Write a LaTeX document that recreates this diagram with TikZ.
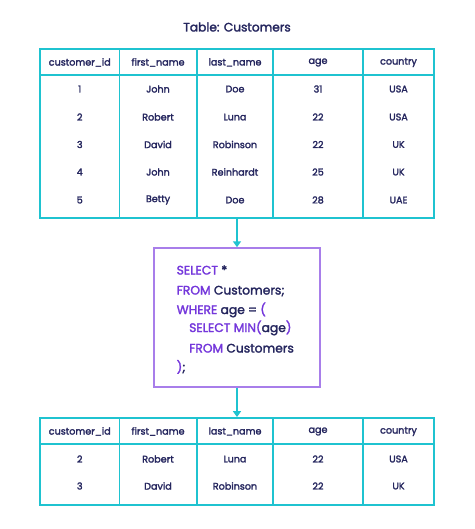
\documentclass[tikz,border=0pt]{standalone}
\usepackage{fontspec}
\setmainfont{Poppins}[FakeBold=2.2]
\usetikzlibrary{arrows.meta}
\definecolor{tealc}{HTML}{1FC3D0}
\definecolor{navy}{HTML}{25265E}
\definecolor{kw}{HTML}{7437DB}
\definecolor{boxc}{HTML}{A87EEA}
\tikzset{
  tbl/.style={draw=tealc, line width=1.8pt, inner sep=0pt, rectangle},
  cell/.style={text=navy, font=\fontsize{9.6}{11}\selectfont, inner sep=0pt, anchor=center},
  sql/.style={text=navy, font=\fontsize{12.3}{14}\selectfont, inner sep=0pt, anchor=base west},
  conn/.style={draw=tealc, line width=1.8pt, -{Triangle[width=8pt,length=6pt]}},
  qbox/.style={draw=boxc, line width=1.5pt, rectangle, inner sep=0pt},
  grid/.style={draw=tealc, line width=1.8pt}
}
\newcommand{\kwd}[1]{\textcolor{kw}{#1}}
\begin{document}
\begin{tikzpicture}[x=1pt,y=-1pt]
\useasboundingbox (0,0) rectangle (474,529);
% title
\node[text=navy, font=\fontsize{12.2}{14}\selectfont, inner sep=0pt] (title) at (237,27) {Table: Customers};
% top table
\node[tbl, minimum width=394pt, minimum height=169pt] (t1) at (237,133.5) {};
\draw[grid] (40,75) -- (434,75);
\foreach \x in {119.5,197,273,363} \draw[grid] (\x,49) -- (\x,218);
% bottom table
\node[tbl, minimum width=394pt, minimum height=87pt] (t2) at (237,461.5) {};
\draw[grid] (40,444) -- (434,444);
\foreach \x in {119.5,197,273,363} \draw[grid] (\x,418) -- (\x,505);
% headers
\foreach \t/\x [count=\i] in {customer\_id/79.75, first\_name/158, last\_name/235, age/318, country/398.5} {
  \node[cell] (h1-\i) at (\x,62.5) {\t};
  \node[cell] (h2-\i) at (\x,431.5) {\t};
}
% top rows
\foreach \a/\b/\c/\d/\e/\y [count=\r] in {1/John/Doe/31/USA/89, 2/Robert/Luna/22/USA/117, 3/David/Robinson/22/UK/144.5, 4/John/Reinhardt/25/UK/172, 5/Betty/Doe/28/UAE/200} {
  \node[cell] (a\r-1) at (79.75,\y) {\a};
  \node[cell] (a\r-2) at (158,\y) {\b};
  \node[cell] (a\r-3) at (235,\y) {\c};
  \node[cell] (a\r-4) at (318,\y) {\d};
  \node[cell] (a\r-5) at (398.5,\y) {\e};
}
% bottom rows
\foreach \a/\b/\c/\d/\e/\y [count=\r] in {2/Robert/Luna/22/USA/459, 3/David/Robinson/22/UK/486} {
  \node[cell] (b\r-1) at (79.75,\y) {\a};
  \node[cell] (b\r-2) at (158,\y) {\b};
  \node[cell] (b\r-3) at (235,\y) {\c};
  \node[cell] (b\r-4) at (318,\y) {\d};
  \node[cell] (b\r-5) at (398.5,\y) {\e};
}
% query box
\node[qbox, minimum width=166pt, minimum height=139pt] (q) at (237,317.5) {};
\node[sql] (l1) at (176.5,274.5) {\kwd{SELECT} *};
\node[sql] (l2) at (176.5,294.5) {\kwd{FROM} Customers;};
\node[sql] (l3) at (176.5,314) {\kwd{WHERE} age = \kwd{(}};
\node[sql] (l4) at (189,332) {\kwd{SELECT MIN(}age\kwd{)}};
\node[sql] (l5) at (189,352.5) {\kwd{FROM} Customers};
\node[sql] (l6) at (176.5,371.5) {\kwd{)};};
% connectors
\draw[conn] (t1.south) -- (q.north);
\draw[conn] (q.south) -- (t2.north);
\end{tikzpicture}
\end{document}
